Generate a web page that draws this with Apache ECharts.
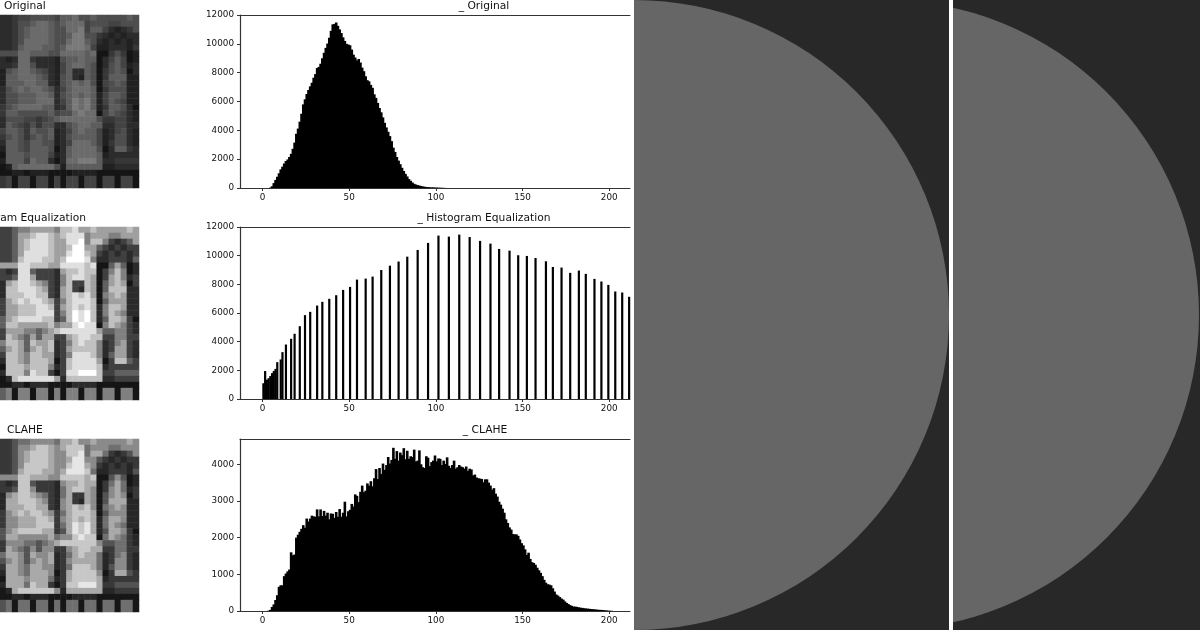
<!DOCTYPE html>
<html lang="en">
  <head>
    <meta charset="utf-8" />
    <title>Original / Histogram Equalization / CLAHE</title>
    <style>
      html, body { margin: 0; padding: 0; background: #fff; }
      #chart-container { width: 1200px; height: 630px; }
    </style>
  </head>
  <body>
    <div id="chart-container"></div>
    <script src="https://cdn.jsdelivr.net/npm/echarts@6/dist/echarts.min.js"></script>
    <script>
      // coarse tone map of the photo (0 dark .. 9 bright), one string per row
      var sceneRows = [
        "33455666657786676666676",
        "33466788767888566655666",
        "33467888766889577532346",
        "33467888766799664323233",
        "33468888766899763232323",
        "33478887767999852233324",
        "66688777668888781146412",
        "32388433326778771357512",
        "33488633325788761367523",
        "26788765325733761467613",
        "27788876326732761477722",
        "27778877326787861567622",
        "36787887635788871466622",
        "36677788736787872577622",
        "36677788835798972576522",
        "46788887734798972477631",
        "47766666756689881576532",
        "36665545678888886445532",
        "37654646633678877335533",
        "57764766723578775235632",
        "46764676723677775236632",
        "37765776623588875246632",
        "27765777613788886137743",
        "17776777523788887233333",
        "27775877313889997334444",
        "12788888862777777223333",
        "11221222111122221111111",
        "45155155151551551551551",
        "45155155151551551551551"
      ];

      var xTicks = [0, 50, 100, 150, 200];
      var yTicks12k = [0, 2000, 4000, 6000, 8000, 10000, 12000];
      var yTicksClahe = [0, 1000, 2000, 3000, 4000];

      // counts per bin, index = grey level
      var originalCounts = [
        0, 0, 0, 0, 30, 120, 340, 560, 780, 1020, 1290, 1480, 1700, 1870, 1980, 2150,
        2370, 2720, 3150, 3760, 4120, 4600, 5150, 5800, 6150, 6520, 6800, 7050, 7300, 7650, 7900, 8320,
        8400, 8620, 9000, 9380, 9720, 10020, 10420, 10900, 11350, 11380, 11480, 11250, 11000, 10750, 10450, 10200,
        10000, 9950, 9900, 9600, 9250, 9050, 8850, 8950, 8700, 8350, 8100, 7750, 7480, 7400, 7150, 6950,
        6500, 6250, 5900, 5550, 5250, 4900, 4520, 4200, 3900, 3600, 3250, 2800, 2500, 2150, 1900, 1650,
        1400, 1180, 980, 800, 620, 500, 380, 290, 240, 200, 170, 140, 110, 90, 70, 60,
        50, 45, 40, 35, 30, 25, 20, 15, 10, 5
      ];

      var equalizedBins = [
        0, 1, 2, 3, 4, 5, 6, 7, 8, 10, 11, 13, 16, 18, 21, 24, 27, 31, 34, 38, 42, 46, 50, 54, 59, 63, 68, 73, 78, 83,
        89, 95, 101, 107, 113, 119, 125, 131, 136, 142, 147, 152, 157, 163, 167, 172, 177, 182, 186, 191, 195, 199, 203, 207, 211
      ];
      var equalizedCounts = [
        1100, 1950, 1350, 1450, 1600, 1800, 1950, 2100, 2570, 2760, 3270, 3800, 4200, 4550, 5080, 5850, 6080, 6520, 6780, 6990,
        7240, 7610, 7820, 8330, 8400, 8540, 9000, 9300, 9590, 9930,
        10400, 10890, 11400, 11330, 11470, 11300, 11030, 10840, 10470, 10350, 10030, 9980, 9840, 9610, 9210, 9170, 8800, 8960, 8730, 8380,
        8200, 7960, 7500, 7430, 7130
      ];

      var claheCounts = [
        0, 0, 0, 10, 30, 110, 180, 300, 430, 660, 700, 700, 950, 1020, 1080, 1130,
        1600, 1520, 1540, 2000, 2080, 2160, 2240, 2340, 2270, 2520, 2440, 2520, 2600, 2580, 2570, 2770,
        2580, 2770, 2590, 2730, 2600, 2680, 2500, 2660, 2650, 2540, 2700, 2570, 2780, 2570, 2680, 2980,
        2580, 2720, 2760, 2920, 2850, 3180, 3140, 2970, 3250, 3420, 3240, 3280, 3480, 3420, 3540, 3400,
        3620, 3870, 3600, 3900, 3740, 4020, 3850, 3980, 4200, 4020, 4120, 4450, 4150, 4360, 4100, 4320,
        4250, 4440, 4140, 4370, 4150, 4220, 4200, 4400, 4080, 4100, 4380, 4000, 3920, 3900, 4220, 4180,
        3950, 4060, 4100, 4240, 4080, 4160, 4150, 3980, 4100, 4010, 4190, 3960, 3900, 3980, 4100, 3880,
        3920, 3980, 3940, 3920, 3880, 3940, 3820, 3880, 3860, 3700, 3720, 3640, 3620, 3610, 3600, 3510,
        3590, 3590, 3500, 3420, 3310, 3350, 3200, 3120, 2980, 2900, 2790, 2680, 2500, 2400, 2280, 2220,
        2100, 2090, 2090, 2050, 1950, 1850, 1790, 1680, 1530, 1590, 1420, 1330, 1310, 1260, 1180, 1110,
        1040, 950, 850, 770, 730, 720, 700, 620, 530, 450, 420, 380, 340, 310, 260, 220,
        190, 160, 140, 120, 120, 110, 100, 90, 85, 75, 70, 65, 60, 55, 50, 45,
        40, 35, 30, 30, 25, 20, 15, 10, 8, 5
      ];

      // disc [centre x, centre y, radius] in each panel's own units
      var discLeft = [0, 315, 315];
      var discRight = [-69, 315, 315];

      var font = "DejaVu Sans";
      var grids = [], xAxes = [], yAxes = [], series = [], visualMaps = [], titles = [];

      function addAxes(grid, xAxis, yAxis) {
        grids.push(grid);
        xAxis.gridIndex = grids.length - 1;
        yAxis.gridIndex = grids.length - 1;
        xAxes.push(xAxis);
        yAxes.push(yAxis);
        return { x: xAxes.length - 1, y: yAxes.length - 1 };
      }

      function addPhoto(top, ramp) {
        var cols = [], rows = [], cells = [];
        for (var i = 0; i < sceneRows[0].length; i++) cols.push(i);
        for (var j = 0; j < sceneRows.length; j++) {
          rows.push(j);
          for (var k = 0; k < sceneRows[j].length; k++) {
            cells.push([k, j, Number(sceneRows[j][k])]);
          }
        }
        var idx = addAxes(
          { left: 0, top: top, width: 139, height: 173 },
          { type: "category", data: cols, show: false },
          { type: "category", data: rows, inverse: true, show: false }
        );
        series.push({
          type: "heatmap",
          xAxisIndex: idx.x,
          yAxisIndex: idx.y,
          data: cells,
          silent: true,
          itemStyle: { borderWidth: 0 }
        });
        visualMaps.push({
          show: false,
          seriesIndex: series.length - 1,
          dimension: 2,
          min: 0,
          max: 9,
          inRange: { color: ramp }
        });
      }

      function addHistogram(top, height, yMax, yTicks, points, barWidth) {
        var plain = function (v) { return String(v); };
        var idx = addAxes(
          { left: 240, top: top, width: 390, height: height },
          {
            type: "value", min: -13, max: 212, position: "bottom",
            splitLine: { show: false },
            axisLine: { show: true, onZero: false, lineStyle: { color: "#333", width: 1 } },
            axisTick: { show: true, length: 3, customValues: xTicks, lineStyle: { color: "#333", width: 1 } },
            axisLabel: { customValues: xTicks, formatter: plain, margin: 5, color: "#111", fontFamily: font, fontSize: 8.8 }
          },
          {
            type: "value", min: 0, max: yMax, position: "left",
            splitLine: { show: false },
            axisLine: { show: true, onZero: false, lineStyle: { color: "#333", width: 1.2 } },
            axisTick: { show: true, length: 3, customValues: yTicks, lineStyle: { color: "#333", width: 1 } },
            axisLabel: { customValues: yTicks, formatter: plain, margin: 6, padding: [4, 0, 0, 0], color: "#111", fontFamily: font, fontSize: 8.8 }
          }
        );
        // top spine
        xAxes.push({
          gridIndex: grids.length - 1, type: "value", min: -13, max: 212, position: "top",
          splitLine: { show: false }, axisTick: { show: false }, axisLabel: { show: false },
          axisLine: { show: true, onZero: false, lineStyle: { color: "#333", width: 1 } }
        });
        series.push({
          type: "bar",
          xAxisIndex: idx.x,
          yAxisIndex: idx.y,
          barWidth: barWidth,
          data: points,
          silent: true,
          itemStyle: { color: "#000" }
        });
      }

      function addDiscPanel(left, width, disc) {
        var idx = addAxes(
          { left: left, top: 0, width: width, height: 630, show: true, backgroundColor: "#282828", borderWidth: 0 },
          { type: "value", min: 0, max: width, show: false },
          { type: "value", min: 0, max: 630, show: false }
        );
        series.push({
          type: "custom",
          xAxisIndex: idx.x,
          yAxisIndex: idx.y,
          clip: true,
          silent: true,
          data: [disc],
          renderItem: function (params, api) {
            var c = api.coord([api.value(0), api.value(1)]);
            var r = api.size([api.value(2), 0])[0];
            return {
              type: "circle",
              shape: { cx: c[0], cy: c[1], r: r },
              style: { fill: "#666666" }
            };
          }
        });
      }

      function addTitle(text, left, top, align) {
        titles.push({
          text: text, left: left, top: top, textAlign: align, padding: 0,
          textStyle: { fontFamily: font, fontSize: 10.7, fontWeight: "normal", color: "#111" }
        });
      }

      function binned(counts) {
        return counts.map(function (c, i) { return [i + 0.5, c]; });
      }

      addPhoto(15, ["#0a0a0a", "#2c2c2c", "#4e4e4e", "#7a7a7a"]);
      addPhoto(227, ["#000000", "#404040", "#a0a0a0", "#ffffff"]);
      addPhoto(439, ["#060606", "#383838", "#8a8a8a", "#e6e6e6"]);

      addHistogram(15, 173, 12000, yTicks12k, binned(originalCounts), 2.6);
      addHistogram(227, 172, 12000, yTicks12k, equalizedBins.map(function (b, i) { return [b + 0.5, equalizedCounts[i]]; }), 2.2);
      addHistogram(439, 172, 4690, yTicksClahe, binned(claheCounts), 2.6);

      addDiscPanel(634, 315, discLeft);
      addDiscPanel(953, 247, discRight);

      addTitle("Original", 4, 1, "left");
      addTitle("Histogram Equalization", 86, 213, "right");
      addTitle("CLAHE", 7, 425, "left");
      addTitle("_ Original", 484, 1, "center");
      addTitle("_ Histogram Equalization", 484, 213, "center");
      addTitle("_ CLAHE", 485, 425, "center");

      var myChart = echarts.init(document.getElementById("chart-container"), null, { renderer: "canvas" });
      myChart.setOption({
        animation: false,
        backgroundColor: "#fff",
        title: titles,
        grid: grids,
        xAxis: xAxes,
        yAxis: yAxes,
        visualMap: visualMaps,
        series: series
      });
    </script>
  </body>
</html>
